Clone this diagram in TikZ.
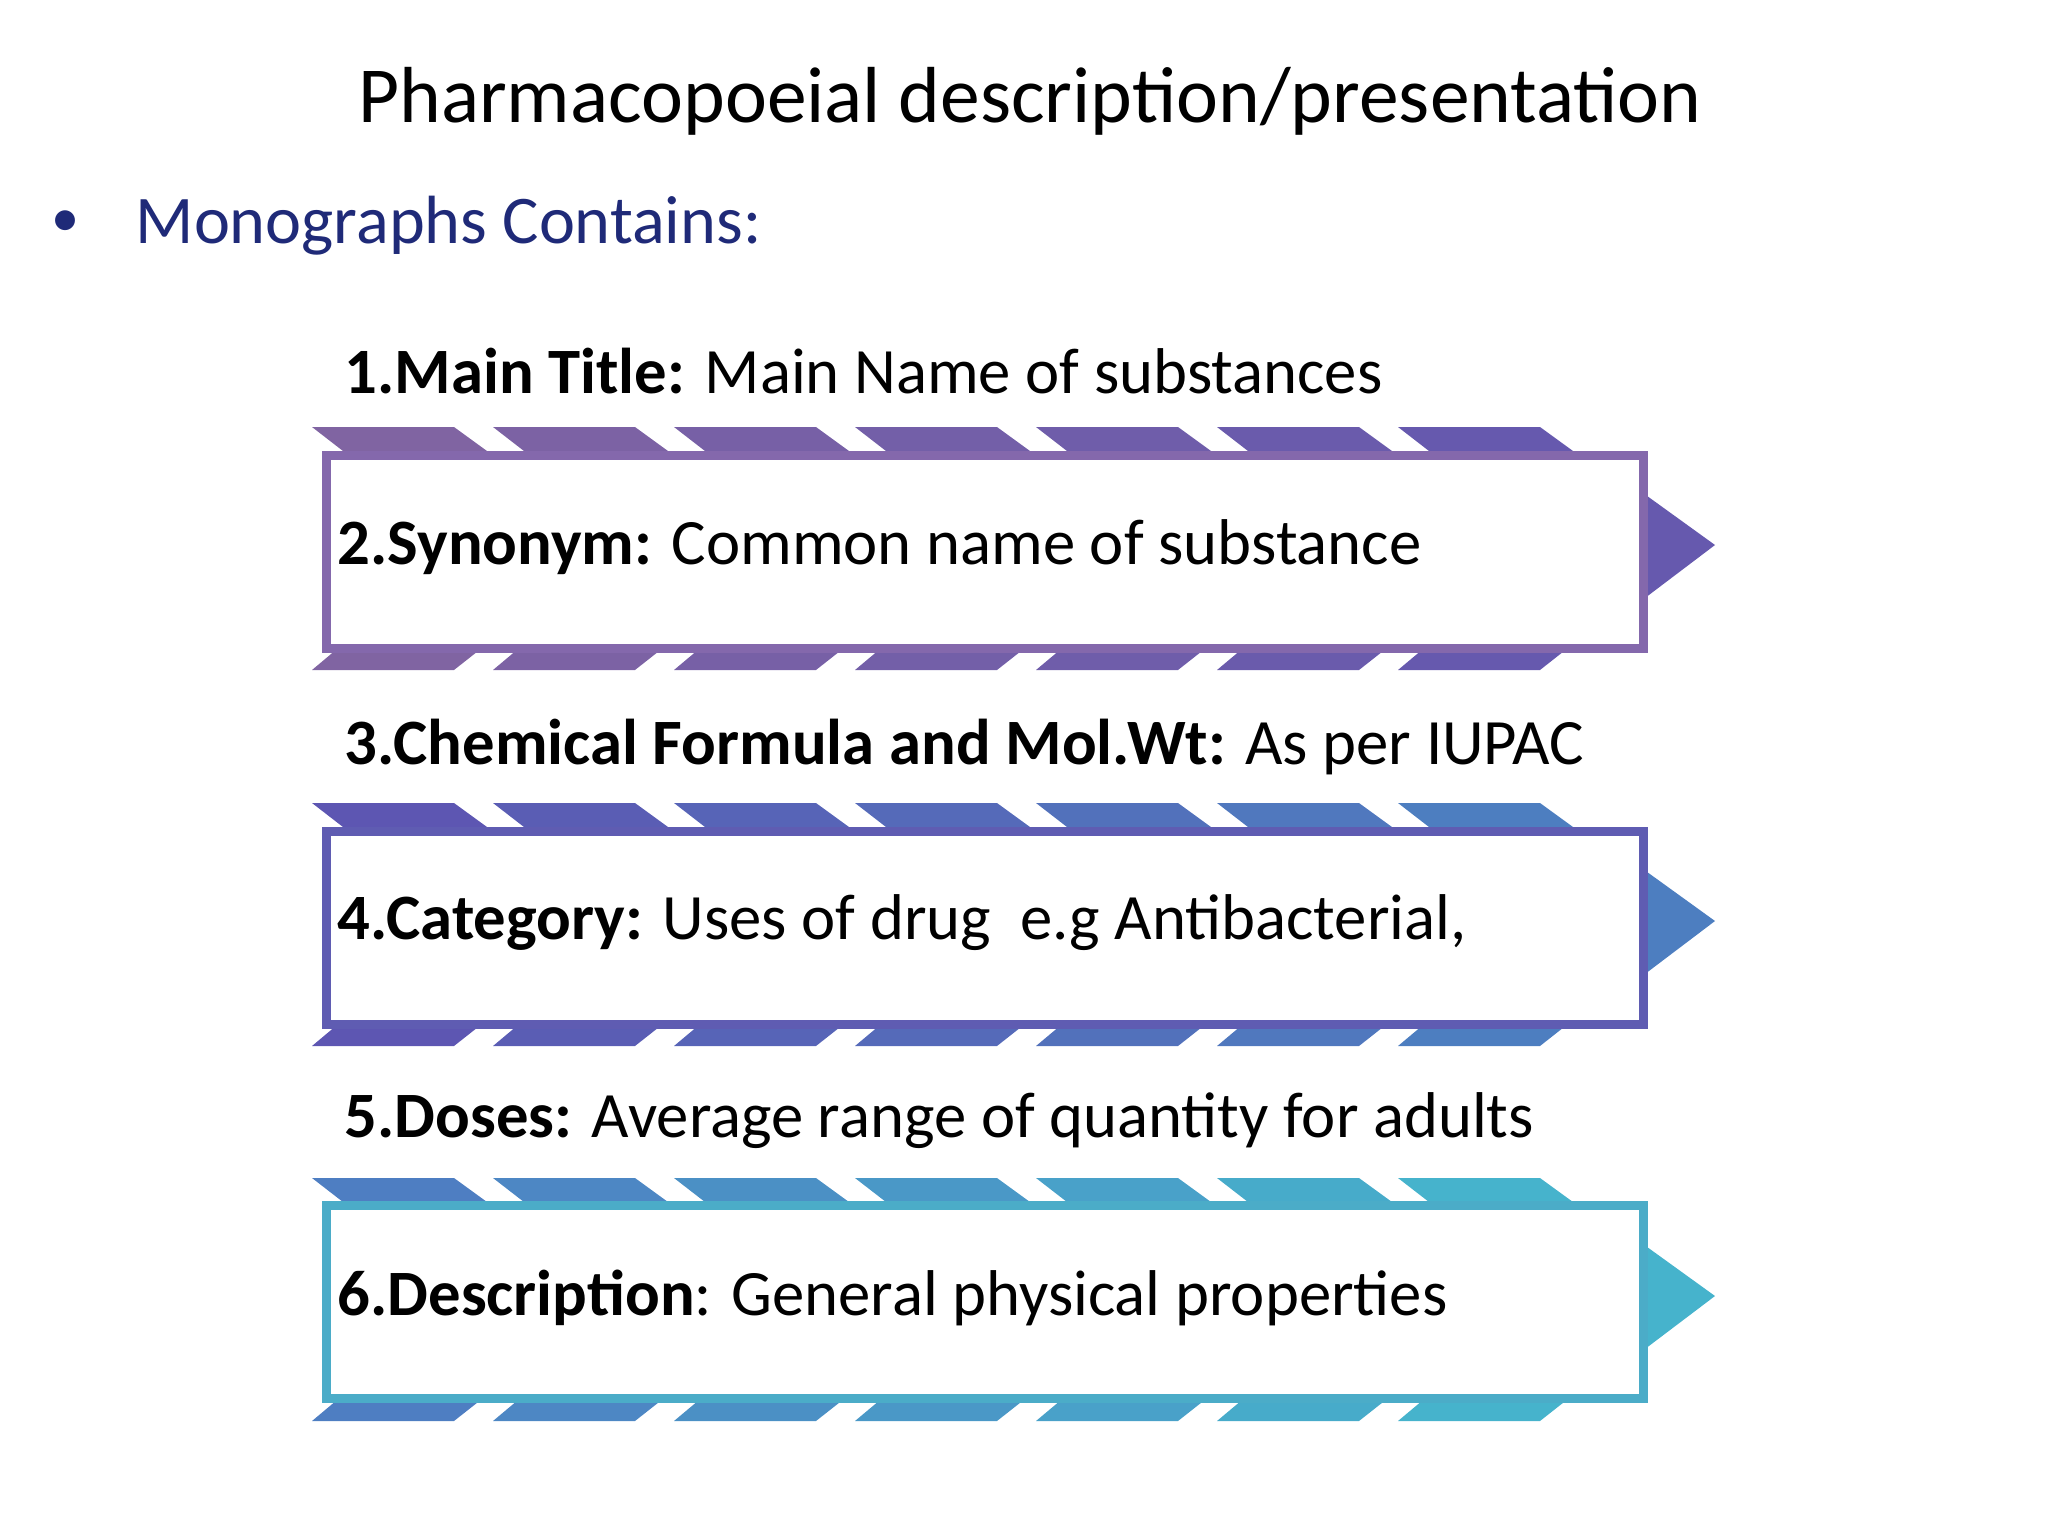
\documentclass[tikz,border=0pt]{standalone}
\usepackage{fontspec}
\setmainfont{Carlito}
\definecolor{navy}{HTML}{1F2A78}
\definecolor{aA}{HTML}{8064A2}\definecolor{aB}{HTML}{6659AE}\definecolor{aE}{HTML}{8468AC}
\definecolor{bA}{HTML}{5D56B2}\definecolor{bB}{HTML}{4D7EC0}\definecolor{bE}{HTML}{5F5CB2}
\definecolor{cA}{HTML}{4E7EC2}\definecolor{cB}{HTML}{46B3CC}\definecolor{cE}{HTML}{4BACC8}
\tikzset{
 lbl/.style={anchor=west,inner sep=0pt,font=\fontsize{18.4pt}{22pt}\selectfont},
 boxtxt/.style={anchor=west,inner sep=0pt,font=\fontsize{18.4pt}{22pt}\selectfont},
 bigbox/.style={line width=2.5pt,fill=white,minimum width=13.16cm,minimum height=1.93cm,anchor=north west,inner sep=0pt},
}
\newcommand{\chevronrow}[4]{% #1 ycenter, #2 colA, #3 colB, #4 edge colour
 \foreach \i in {0,...,6}{
  \pgfmathtruncatemacro{\p}{100-\i*100/6}
  \colorlet{stc}{#2!\p!#3}
  \pgfmathsetmacro{\xa}{312+\i*181}
  \fill[stc] (\xa,#1-120) -- (\xa+142,#1-120) -- (\xa+175,#1-96) -- (\xa+31,#1-96) -- cycle;
  \fill[stc] (\xa+31,#1+97) -- (\xa+175,#1+97) -- (\xa+142,#1+123) -- (\xa,#1+123) -- cycle;
 }
 \fill[#3] (1600,#1-85) -- (1715,#1-2) -- (1600,#1+85) -- cycle;
}
\begin{document}
\begin{tikzpicture}[x=0.01cm,y=-0.01cm]
\useasboundingbox (0,0) rectangle (2048,1536);
\node[font=\fontsize{22.6pt}{28pt}\selectfont] (title) at (1030,101) {Pharmacopoeial description/presentation};
\node[font=\fontsize{16pt}{20pt}\selectfont,text=navy] (bul) at (66,224) {•};
\node[anchor=west,inner sep=0pt,font=\fontsize{19.4pt}{24pt}\selectfont,text=navy] (mono) at (135,226) {Monographs Contains:};
% row 1
\chevronrow{547}{aA}{aB}{aE}
\node[bigbox,draw=aE] (b1) at (322,451) {};
\node[boxtxt] (t2) at (337,547) {\textbf{2.Synonym:} Common name of substance};
\node[lbl] (t1) at (344,371) {\textbf{1.Main Title:} Main Name of substances};
% row 2
\chevronrow{923}{bA}{bB}{bE}
\node[bigbox,draw=bE] (b2) at (322,827) {};
\node[boxtxt] (t4) at (337,923) {\textbf{4.Category:} Uses of drug\ \ e.g Antibacterial,};
\node[lbl] (t3) at (344,747) {\textbf{3.Chemical Formula and Mol.Wt:} As per IUPAC};
% row 3
\chevronrow{1298}{cA}{cB}{cE}
\node[bigbox,draw=cE] (b3) at (322,1201) {};
\node[boxtxt] (t6) at (337,1298) {\textbf{6.Description}: General physical properties};
\node[lbl] (t5) at (344,1121) {\textbf{5.Doses:} Average range of quantity for adults};
\end{tikzpicture}
\end{document}
